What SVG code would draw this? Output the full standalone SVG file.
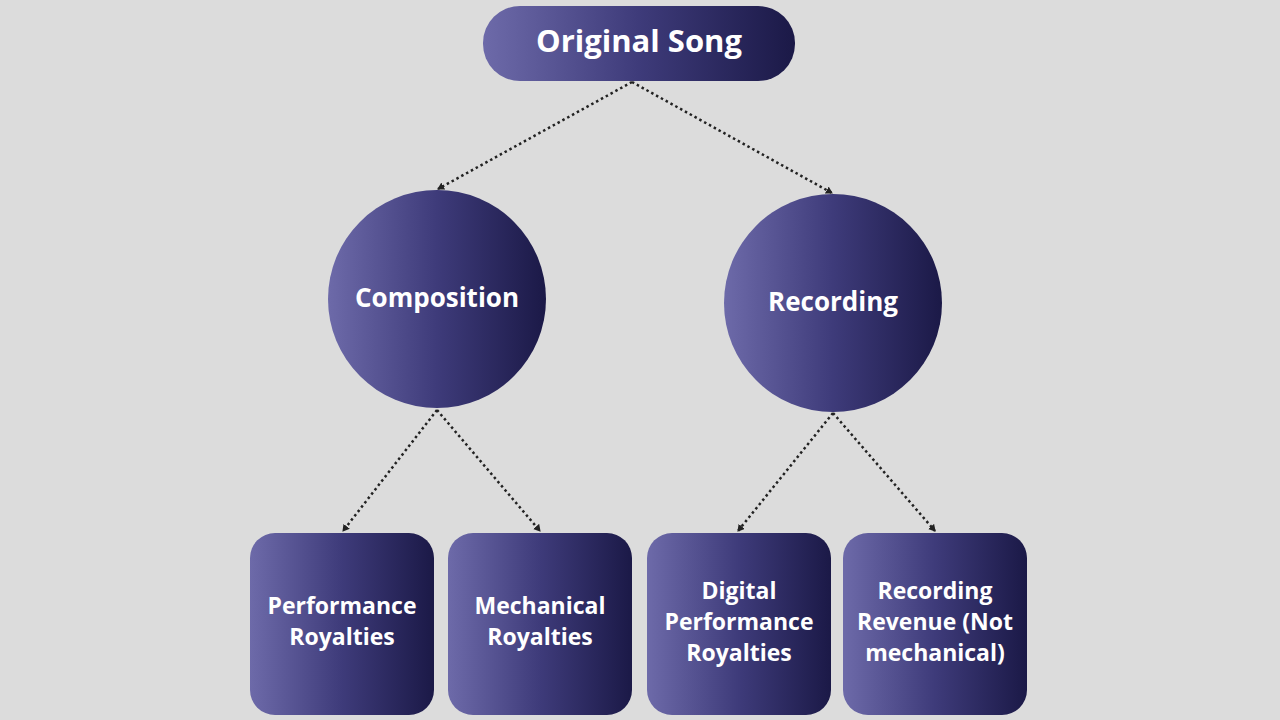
<svg xmlns="http://www.w3.org/2000/svg" width="1280" height="720" viewBox="0 0 1280 720">
<defs>
<linearGradient id="g" x1="0" y1="0" x2="1" y2="0">
<stop offset="0" stop-color="#6d6aa9"/><stop offset="0.5" stop-color="#3e3b7a"/><stop offset="1" stop-color="#1b1947"/>
</linearGradient>
<marker id="ah" markerWidth="8" markerHeight="8" refX="6" refY="4" orient="auto" markerUnits="userSpaceOnUse">
<path d="M0,0 L7,4 L0,8 Z" fill="#222"/>
</marker>
<style>
.n{fill:url(#g)}
.t{font-family:"Open Sans","Liberation Sans",sans-serif;font-weight:700;fill:#fff;text-anchor:middle}
.c{stroke:#222;stroke-width:2.5;stroke-dasharray:2.5 3;fill:none;marker-end:url(#ah)}
</style>
</defs>
<rect width="1280" height="720" fill="#dcdcdc"/>
<g id="connectors">
<line class="c" x1="632" y1="82" x2="438" y2="189"/>
<line class="c" x1="632" y1="82" x2="832" y2="193"/>
<line class="c" x1="437" y1="410" x2="343" y2="531"/>
<line class="c" x1="437" y1="410" x2="540" y2="531"/>
<line class="c" x1="833" y1="413" x2="738" y2="531"/>
<line class="c" x1="833" y1="413" x2="935" y2="531"/>
</g>
<g id="original"><rect class="n" x="483" y="6" width="312" height="75" rx="37"/><text class="t" x="639" y="52" font-size="31">Original Song</text></g>
<g id="composition"><circle class="n" cx="437" cy="299" r="109"/><text class="t" x="437" y="307" font-size="26">Composition</text></g>
<g id="recording"><circle class="n" cx="833" cy="303" r="109"/><text class="t" x="833" y="311" font-size="26">Recording</text></g>
<g id="perf"><rect class="n" x="250" y="533" width="184" height="182" rx="25"/><text class="t" x="342" y="614" font-size="23">Performance</text><text class="t" x="342" y="645" font-size="23">Royalties</text></g>
<g id="mech"><rect class="n" x="448" y="533" width="184" height="182" rx="25"/><text class="t" x="540" y="614" font-size="23">Mechanical</text><text class="t" x="540" y="645" font-size="23">Royalties</text></g>
<g id="digital"><rect class="n" x="647" y="533" width="184" height="182" rx="25"/><text class="t" x="739" y="599" font-size="23">Digital</text><text class="t" x="739" y="630" font-size="23">Performance</text><text class="t" x="739" y="661" font-size="23">Royalties</text></g>
<g id="recrev"><rect class="n" x="843" y="533" width="184" height="182" rx="25"/><text class="t" x="935" y="599" font-size="23">Recording</text><text class="t" x="935" y="630" font-size="23">Revenue (Not</text><text class="t" x="935" y="661" font-size="23">mechanical)</text></g>
</svg>
